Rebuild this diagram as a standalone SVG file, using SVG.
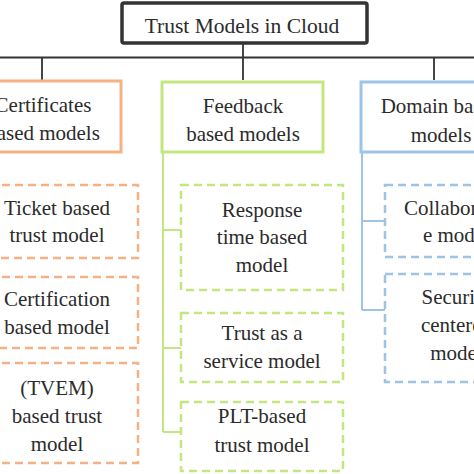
<svg xmlns="http://www.w3.org/2000/svg" width="474" height="474" viewBox="0 0 474 474">
<style>
text{font-family:"Liberation Serif","Times New Roman",serif;font-size:21px;fill:#2b2b2b;text-anchor:middle}
.t{font-size:21.5px}
.main{fill:#fff;stroke:#333;stroke-width:3.5}
.o{fill:#fff;stroke:#f4b183;stroke-width:3}
.g{fill:#fff;stroke:#c3e77f;stroke-width:3}
.b{fill:#fff;stroke:#9dc3e6;stroke-width:3}
.od{fill:#fff;stroke:#f4b183;stroke-width:2.5;stroke-dasharray:8 5}
.gd{fill:#fff;stroke:#c3e77f;stroke-width:2.5;stroke-dasharray:8 5}
.bd{fill:#fff;stroke:#9dc3e6;stroke-width:2.5;stroke-dasharray:8 5}
.ck{fill:none;stroke:#333;stroke-width:1.8}
.cg{fill:none;stroke:#c3e77f;stroke-width:2}
.cb{fill:none;stroke:#9dc3e6;stroke-width:2}
</style>
<g id="connectors">
<path class="ck" d="M243 43V80M0 57.5H474M42 57.5V80M434 57.5V80"/>
<path class="cg" d="M163 152V432M163 230H181M163 348H181M163 432H181"/>
<path class="cb" d="M362 152V310M362 221H385M362 310H385"/>
</g>
<g id="root"><rect class="main" x="122" y="3" width="245" height="40" rx="2"/><text class="t" x="242" y="33">Trust Models in Cloud</text></g>
<g id="certificates"><rect class="o" x="-38" y="81" width="159" height="71"/><text x="43" y="112">Certificates</text><text x="43" y="140">based models</text></g>
<g id="feedback"><rect class="g" x="162" y="82" width="161" height="70"/><text x="243" y="113">Feedback</text><text x="243" y="141">based models</text></g>
<g id="domain"><rect class="b" x="361" y="82" width="170" height="70"/><text x="441" y="113">Domain based</text><text x="441" y="142">models</text></g>
<g id="ticket"><rect class="od" x="-24" y="185" width="162" height="73"/><text x="57" y="215">Ticket based</text><text x="57" y="242">trust model</text></g>
<g id="certification"><rect class="od" x="-24" y="277" width="162" height="71"/><text x="57" y="306">Certification</text><text x="57" y="334">based model</text></g>
<g id="tvem"><rect class="od" x="-24" y="363" width="162" height="100"/><text x="57" y="395">(TVEM)</text><text x="57" y="423">based trust</text><text x="57" y="451">model</text></g>
<g id="response"><rect class="gd" x="181" y="185" width="162" height="105"/><text x="262" y="217">Response</text><text x="262" y="244">time based</text><text x="262" y="272">model</text></g>
<g id="taas"><rect class="gd" x="181" y="313" width="162" height="69"/><text x="262" y="340">Trust as a</text><text x="262" y="368">service model</text></g>
<g id="plt"><rect class="gd" x="181" y="402" width="162" height="69"/><text x="262" y="423">PLT-based</text><text x="262" y="452">trust model</text></g>
<g id="collaborative"><rect class="bd" x="385" y="185" width="163" height="72"/><text x="456.5" y="215">Collaborativ</text><text x="456.5" y="242">e model</text></g>
<g id="security"><rect class="bd" x="385" y="274" width="163" height="108"/><text x="456.5" y="304">Security</text><text x="456.5" y="332">centered</text><text x="456.5" y="360">model</text></g>
</svg>
